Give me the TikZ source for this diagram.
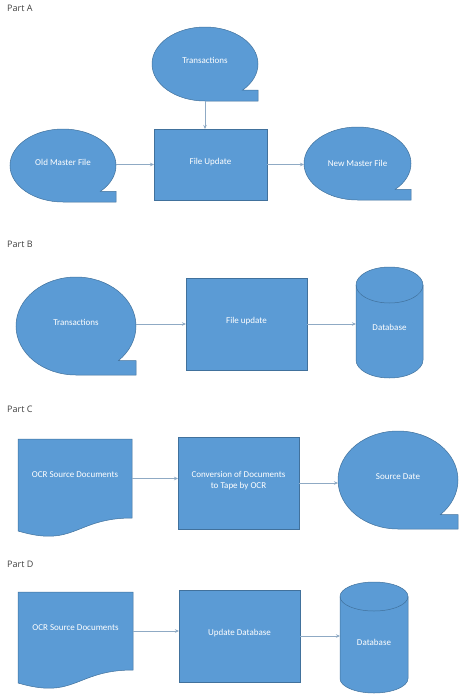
\documentclass[tikz,border=0pt]{standalone}
\usepackage{fontspec}
\usepackage{xcolor}
\usepackage{tikz}
\setmainfont{Carlito}
\newfontfamily\partfont{Open Sans}
\usetikzlibrary{calc}
\usetikzlibrary{shapes.geometric}
\usetikzlibrary{arrows.meta}
\definecolor{boxblue}{HTML}{5B9BD5}
\definecolor{boxline}{HTML}{41719C}
\definecolor{linkgray}{HTML}{8FAAC4}
\definecolor{partgray}{HTML}{404040}

\tikzstyle{partlabel} = [font=\partfont\fontsize{9}{11}\selectfont, text=partgray,
anchor=base west, inner sep=0pt]
\tikzstyle{blocktext} = [font=\fontsize{9}{11}\selectfont, text=white, align=center,
inner sep=0pt, outer sep=0pt, text depth=7pt]
\tikzstyle{shapefill} = [fill=boxblue, draw=boxline, line width=0.5pt]
\tikzstyle{procbox} = [blocktext, rectangle, shapefill]
\tikzstyle{link} = [draw=linkgray, line width=0.6pt, -{Stealth[length=4pt,width=3.5pt]}]

\tikzset{
  tape/.style n args={2}{blocktext, ellipse, minimum width={2*#1}, minimum height={2*#2},
    append after command={\pgfextra{
      \filldraw[shapefill] (\tikzlastnode.south)
        arc[start angle=270, end angle=-45, x radius=#1, y radius=#2]
        -- ++({0.2929*#1},0pt) -- (\tikzlastnode.south -| \tikzlastnode.east) -- cycle;}}},
  docshape/.style={blocktext, rectangle,
    append after command={\pgfextra{
      \filldraw[shapefill] ([yshift=-13pt]\tikzlastnode.south west) -- (\tikzlastnode.north west)
        -- (\tikzlastnode.north east) -- (\tikzlastnode.south east)
        .. controls (\tikzlastnode.south) and ([yshift=-30pt]\tikzlastnode.south) .. ([yshift=-13pt]\tikzlastnode.south west)
        -- cycle;}}},
  dbshape/.style n args={2}{blocktext, rectangle, minimum width={2*#1},
    text depth=0pt, text height=15pt,
    append after command={\pgfextra{
      \filldraw[shapefill] (\tikzlastnode.north west) -- (\tikzlastnode.south west)
        arc[start angle=180, end angle=360, x radius=#1, y radius=#2] -- (\tikzlastnode.north east)
        arc[start angle=0, end angle=180, x radius=#1, y radius=#2] -- cycle;
      \draw[boxline, line width=0.5pt] (\tikzlastnode.north west)
        arc[start angle=180, end angle=360, x radius=#1, y radius=#2];}}}
}

\begin{document}
\begin{tikzpicture}[x=1pt, y=-1pt]
        \useasboundingbox (0,0) rectangle (474,694);

        \node[partlabel] (partA) at (7,11) {Part A};
        \node[tape={53pt}{37pt}] (transA) at (205,64) {Transactions};
        \node[procbox, minimum width=113pt, minimum height=71pt] (fileA) at (210.5,164.5) {File Update};
        \node[tape={53pt}{36.5pt}] (oldA) at (63,165.5) {Old Master File};
        \node[tape={53.5pt}{36.5pt}, text depth=0pt] (newA) at (357.5,163.5) {New Master File};
        \draw[link] (transA.south) -- (transA.south |- fileA.north);
        \draw[link] (oldA.east |- fileA.west) -- (fileA.west);
        \draw[link] (fileA.east) -- (newA.west |- fileA.east);

        \node[partlabel] (partB) at (7,247) {Part B};
        \node[tape={60pt}{49pt}] (transB) at (76,326) {Transactions};
        \node[procbox, minimum width=121pt, minimum height=92pt] (fileB) at (246.5,324) {File update};
        \node[dbshape={33.5pt}{18pt}, minimum height=75pt] (dbB) at (389.5,322.5) {Database};
        \draw[link] (transB.east |- fileB.west) -- (fileB.west);
        \draw[link] (fileB.east) -- (dbB.west |- fileB.east);

        \node[partlabel] (partC) at (7,412) {Part C};
        \node[docshape, minimum width=114pt, minimum height=79pt] (ocrC) at (75,478.5) {OCR Source Documents};
        \node[procbox, minimum width=121pt, minimum height=92pt] (convC) at (238.5,483) {Conversion of Documents\\to Tape by OCR};
        \node[tape={60pt}{49pt}] (srcC) at (398,480) {Source Date};
        \draw[link] (ocrC.east) -- (convC.west |- ocrC.east);
        \draw[link] (convC.east) -- (srcC.west |- convC.east);

        \node[partlabel] (partD) at (7,567) {Part D};
        \node[docshape, minimum width=115pt, minimum height=78pt] (ocrD) at (75.5,631) {OCR Source Documents};
        \node[procbox, minimum width=121pt, minimum height=92pt] (updD) at (239.5,636) {Update Database};
        \node[dbshape={34pt}{14.5pt}, minimum height=82pt] (dbD) at (374,637.5) {Database};
        \draw[link] (ocrD.east) -- (updD.west |- ocrD.east);
        \draw[link] (updD.east) -- (dbD.west |- updD.east);
    \end{tikzpicture}
\end{document}
